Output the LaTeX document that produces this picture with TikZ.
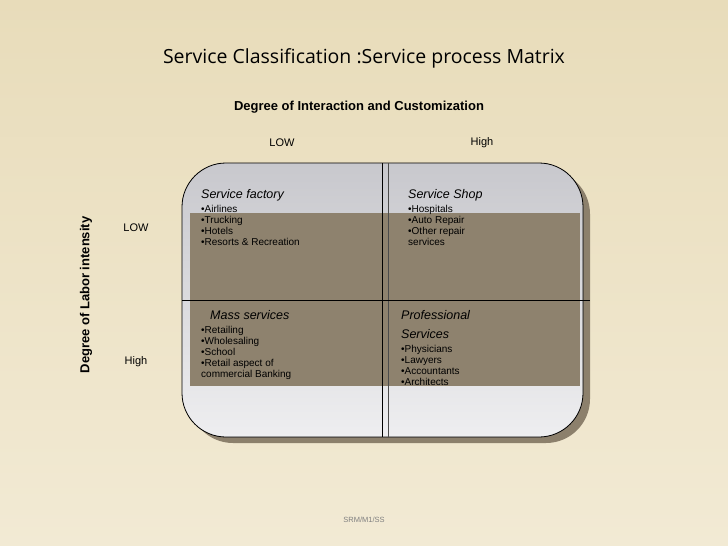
\documentclass[tikz,border=0pt]{standalone}
\usepackage{fontspec}
\setmainfont{Liberation Sans}
\newfontfamily\titlefont{Open Sans}
\definecolor{bgtop}{RGB}{232,220,186}
\definecolor{bgbot}{RGB}{242,234,212}
\definecolor{shad}{RGB}{140,128,108}
\definecolor{gtop}{RGB}{200,200,205}
\definecolor{gbot}{RGB}{238,238,240}
\definecolor{band}{RGB}{142,130,110}
\begin{document}
\begin{tikzpicture}[x=1pt,y=-1pt,
  cell/.style={anchor=north west,align=left,font=\fontsize{10}{17}\selectfont,inner sep=0pt}]
\useasboundingbox (0,0) rectangle (728,546);
\fill[top color=bgtop,bottom color=bgbot] (0,0) rectangle (728,546);
\node[font=\titlefont\fontsize{19.5}{22}\selectfont] (title) at (364,58) {Service Classification :Service process Matrix};
\node[font=\bfseries\fontsize{13}{15}\selectfont] (hd) at (359,107) {Degree of Interaction and Customization};
\node[font=\fontsize{11}{13}\selectfont] (clow) at (282,143) {LOW};
\node[font=\fontsize{11}{13}\selectfont] (chigh) at (482,143) {High};
\node[font=\bfseries\fontsize{13}{15}\selectfont,rotate=90] (vh) at (86,295) {Degree of Labor intensity};
\node[font=\fontsize{11}{13}\selectfont] (rlow) at (136,228) {LOW};
\node[font=\fontsize{11}{13}\selectfont] (rhigh) at (136,362) {High};
\fill[rounded corners=44,shad] (189,170) rectangle (590,443);
\fill[rounded corners=44,top color=gtop,bottom color=gbot] (182,163) rectangle (583,437);
\fill[band] (190,213) rectangle (580,386);
\draw[rounded corners=44,line width=0.8pt] (182,163) rectangle (583,437);
\draw[line width=0.8pt] (382,163) -- (382,437);
\draw[line width=0.5pt,gray!60!black] (388,163) -- (388,437);
\draw[line width=0.8pt] (182,300) -- (590,300);
\node[cell] (c1) at (201,189) {{\itshape\fontsize{12.5}{14}\selectfont Service factory}\\[-3pt]
\textbullet Airlines\\[-6pt] \textbullet Trucking\\[-6pt] \textbullet Hotels\\[-6pt] \textbullet Resorts \& Recreation};
\node[cell] (c2) at (408,189) {{\itshape\fontsize{12.5}{14}\selectfont Service Shop}\\[-3pt]
\textbullet Hospitals\\[-6pt] \textbullet Auto Repair\\[-6pt] \textbullet Other repair\\[-6pt] services};
\node[cell] (c3) at (201,310) {\hspace{9pt}{\itshape\fontsize{12.5}{14}\selectfont Mass services}\\[-3pt]
\textbullet Retailing\\[-6pt] \textbullet Wholesaling\\[-6pt] \textbullet School\\[-6pt] \textbullet Retail aspect of\\[-6pt] commercial Banking};
\node[cell] (c4) at (401,310) {{\itshape\fontsize{12.5}{14}\selectfont Professional}\\[2pt]
{\itshape\fontsize{12.5}{14}\selectfont Services}\\[-3pt]
\textbullet Physicians\\[-6pt] \textbullet Lawyers\\[-6pt] \textbullet Accountants\\[-6pt] \textbullet Architects};
\node[font=\fontsize{7.5}{9}\selectfont,text=gray] (ft) at (364,520) {SRM/M1/SS};
\end{tikzpicture}
\end{document}
